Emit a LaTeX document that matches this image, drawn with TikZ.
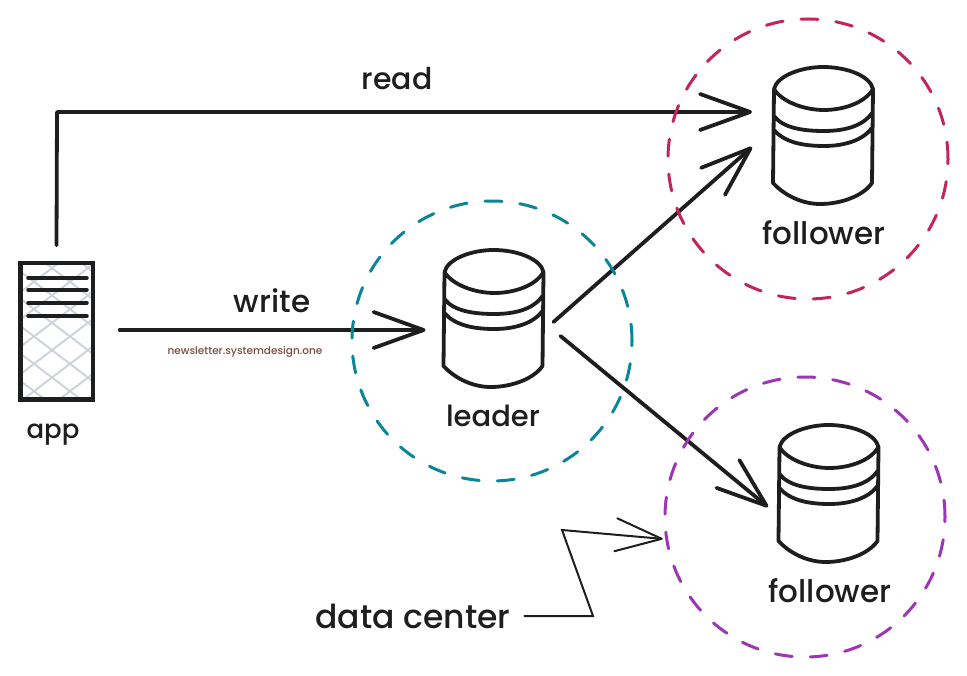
\documentclass[tikz,border=0pt]{standalone}
\usepackage{fontspec}
\setmainfont{Poppins Medium}
\usetikzlibrary{arrows.meta,backgrounds}
\definecolor{ink}{HTML}{1E1E1E}
\definecolor{hatch}{HTML}{CED4DA}
\definecolor{teal}{HTML}{0C8599}
\definecolor{crim}{HTML}{C2255C}
\definecolor{purp}{HTML}{9C36B5}
\definecolor{mark}{HTML}{7A4A3E}
\tikzset{
  every node/.style={inner sep=0pt, outer sep=0pt, text=ink},
  conn/.style={draw=ink, line width=3.8pt, line cap=round, line join=round,
    -{Straight Barb[length=50pt,width=36pt,line width=3.8pt,round]}},
  thin conn/.style={draw=ink, line width=2pt, line cap=round, line join=miter,
    -{Straight Barb[length=46pt,width=33pt,line width=2pt,round]}},
  dbbox/.style={minimum width=100pt, minimum height=138pt},
  zone/.style={circle, minimum size=280pt, line width=3pt, line cap=round,
    dash pattern=on 17pt off 18pt},
  lbl/.style={font=\fontsize{29}{32}\selectfont},
  db/.pic={
    \draw[draw=ink, line width=3.8pt, line cap=round, line join=round]
      (-49,-47) .. controls (-46,-60) and (-22,-69) .. (0,-69)
        .. controls (24,-69) and (47,-60) .. (50,-47)
        .. controls (42,-33) and (20,-26) .. (1,-26)
        .. controls (-20,-26) and (-42,-35) .. (-49,-47) -- cycle
      (-49,-47) -- (-50,47) .. controls (-38,60) and (-20,68) .. (-3,68)
        .. controls (18,68) and (40,60) .. (49,47) -- (50,-47)
      (-49,-20) .. controls (-40,-8) and (-20,-5) .. (1,-5)
        .. controls (22,-5) and (40,-10) .. (49,-23)
      (-49,-6) .. controls (-38,7) and (-18,10) .. (1,10)
        .. controls (22,10) and (40,4) .. (49,-8);
  }
}
\begin{document}
\begin{tikzpicture}[x=1pt,y=-1pt]
\useasboundingbox (0,0) rectangle (967,676);
% hatch of the app box
\begin{scope}
  \clip (19,262) rectangle (94,401);
  \foreach \i in {-280,-244,...,220}{
    \draw[hatch, line width=2pt] (\i,262) -- ++(100,76) -- ++(100,76);
    \draw[hatch, line width=2pt] (\i+340,262) -- ++(-100,76) -- ++(-100,76);
  }
\end{scope}
\node[draw=ink, line width=4.5pt, minimum width=72.5pt, minimum height=136.5pt] (app) at (56.5,331.5) {};
\foreach \y in {278,290,303,316}
  \draw[ink, line width=3.5pt, line cap=round] (28,\y) -- (87,\y);
\node[lbl, font=\fontsize{26}{28}\selectfont] (applbl) at (53,435) {app};

\node[dbbox] (lead) at (493.5,319) {};
\node[dbbox] (fol1) at (823,136) {};
\node[dbbox] (fol2) at (828.5,494) {};
\pic at (lead) {db};
\pic at (fol1) {db};
\pic at (fol2) {db};
\node[lbl] (leadlbl) at (493,416) {leader};
\node[lbl, font=\fontsize{31}{33}\selectfont] (fol1lbl) at (824,233) {follower};
\node[lbl, font=\fontsize{31}{33}\selectfont] (fol2lbl) at (830,591) {follower};

\node[zone, draw=teal] (zlead) at (492,341) {};
\node[zone, draw=crim] (zfol1) at (808,159) {};
\node[zone, draw=purp] (zfol2) at (805,517) {};

\node[lbl, font=\fontsize{30}{32}\selectfont] (read) at (397,79) {read};
\node[lbl, font=\fontsize{31}{33}\selectfont] (write) at (272,301) {write};
\node[lbl, font=\fontsize{33}{35}\selectfont] (dc) at (413,616) {data center};
\node[font=\fontsize{10.5}{12}\selectfont, text=mark] (mk) at (245,352) {newsletter.systemdesign.one};

\coordinate (turn) at (57,112);
\coordinate (k1) at (593,616);
\coordinate (k2) at (562,530);
\begin{scope}[on background layer]
  \draw[conn] ([yshift=18pt]app.north) -- (turn) -- ([xshift=-21pt,yshift=24pt]fol1.west);
  \draw[conn] ([xshift=27pt,yshift=1.5pt]app.east) -- ([xshift=-18pt,yshift=1.5pt]app.east -| lead.west);
  \draw[conn] ([xshift=10pt,yshift=-3pt]lead.east) -- ([xshift=-21pt,yshift=-11pt]fol1.west);
  \draw[conn] ([xshift=17pt,yshift=-17pt]lead.east) -- ([xshift=-10.5pt,yshift=-13pt]fol2.west);
  \draw[thin conn] ([xshift=14pt]dc.east) -- (k1) -- (k2) -- ([xshift=-4pt]zfol2.189);
\end{scope}
\end{tikzpicture}
\end{document}
